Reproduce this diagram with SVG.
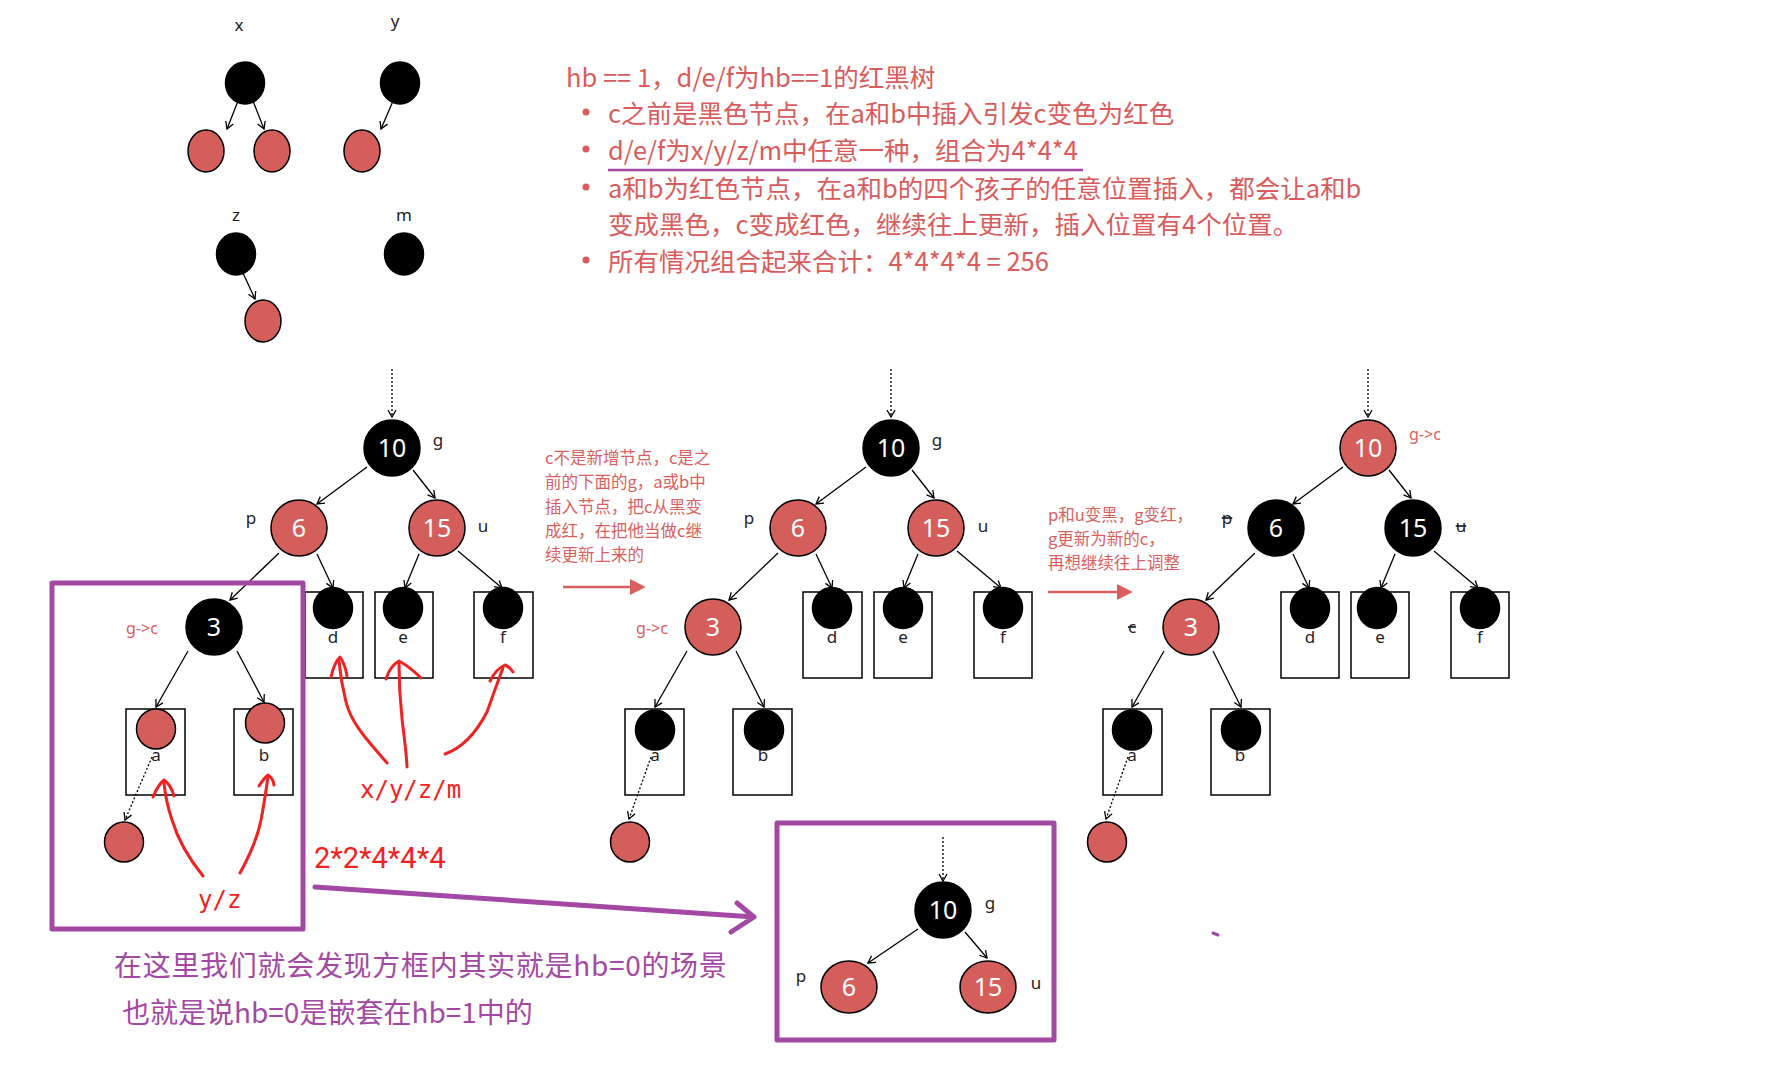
<svg xmlns="http://www.w3.org/2000/svg" width="1792" height="1077" viewBox="0 0 1792 1077">
<style>
.ln{stroke:#000;stroke-width:1.3;fill:none}
.dot{stroke-dasharray:2 2}
.rn{fill:#d45e5b;stroke:#000;stroke-width:1.5}
.bn{fill:#000;stroke:#000;stroke-width:1.5}
.num{font-family:"Noto Sans","DejaVu Sans",sans-serif;font-size:25px;fill:#fff;text-anchor:middle}
.lbl{font-family:"Noto Sans","DejaVu Sans",sans-serif;font-size:17px;fill:#222;text-anchor:middle}
.strike{text-decoration:line-through}
.gc{font-family:"Noto Sans","DejaVu Sans",sans-serif;font-size:16px;fill:#d9605e}
.ann{font-family:"Noto Sans CJK SC",sans-serif;font-size:16.5px;fill:#d9605e}
.note{font-family:"Noto Sans CJK SC",sans-serif;font-size:25.5px;fill:#d95c5c}
.box{fill:none;stroke:#000;stroke-width:1.5}
.hand{stroke:#f02222;stroke-width:3;fill:none;stroke-linecap:round;stroke-linejoin:round}
.purp{stroke:#a349a4;stroke-width:5;fill:none;stroke-linecap:round;stroke-linejoin:round}
.ptext{font-family:"Noto Sans CJK SC",sans-serif;font-size:28px;fill:#a349a4}
.mono{font-family:"DejaVu Sans Mono","Liberation Mono",monospace;font-size:24px;fill:#f02222}
.calc{font-family:"Roboto","Liberation Sans",sans-serif;font-size:29px;fill:#f02222}
</style>
<defs>
<marker id="ah" viewBox="-9 -5 10 10" refX="0" refY="0" markerWidth="10" markerHeight="10" orient="auto" markerUnits="userSpaceOnUse">
<path d="M-7,-4 L0,0 L-7,4" fill="none" stroke="#000" stroke-width="1.3"/>
</marker>
<marker id="ra" viewBox="0 0 10 10" refX="2" refY="5" markerWidth="16" markerHeight="16" orient="auto" markerUnits="userSpaceOnUse">
<path d="M0,0 L10,5 L0,10 Z" fill="#d9605e"/>
</marker>
</defs>
<rect width="1792" height="1077" fill="#fff"/>

<!-- top small trees -->
<g id="small-trees">
<g id="conn-small">
<line class="ln" x1="238" y1="101" x2="227" y2="129" marker-end="url(#ah)"/>
<line class="ln" x1="253" y1="101" x2="264" y2="129" marker-end="url(#ah)"/>
<line class="ln" x1="393" y1="101" x2="381" y2="129" marker-end="url(#ah)"/>
<line class="ln" x1="243" y1="273" x2="255" y2="299" marker-end="url(#ah)"/>
</g>
<g id="sx"><text class="lbl" x="239" y="31" font-size="15">x</text>
<ellipse class="bn" cx="245" cy="83" rx="19.5" ry="21"/>
<ellipse class="rn" cx="206" cy="151" rx="18" ry="21"/>
<ellipse class="rn" cx="272" cy="151" rx="18" ry="21"/></g>
<g id="sy"><text class="lbl" x="395" y="27" font-size="15">y</text>
<ellipse class="bn" cx="400" cy="83" rx="19.5" ry="21"/>
<ellipse class="rn" cx="362" cy="151" rx="18" ry="21"/></g>
<g id="sz"><text class="lbl" x="236" y="221" font-size="15">z</text>
<ellipse class="bn" cx="236" cy="254" rx="19.5" ry="21"/>
<ellipse class="rn" cx="263" cy="321" rx="18" ry="21"/></g>
<g id="sm"><text class="lbl" x="404" y="221" font-size="15">m</text>
<ellipse class="bn" cx="404" cy="254" rx="19.5" ry="21"/></g>
</g>

<!-- notes -->
<g id="notes">
<text class="note" x="566" y="87">hb == 1，d/e/f为hb==1的红黑树</text>
<g fill="#d95c5c"><circle cx="586" cy="112" r="3.5"/><circle cx="586" cy="149" r="3.5"/><circle cx="586" cy="187" r="3.5"/><circle cx="586" cy="260" r="3.5"/></g>
<text class="note" x="608" y="123">c之前是黑色节点，在a和b中插入引发c变色为红色</text>
<text class="note" x="608" y="160">d/e/f为x/y/z/m中任意一种，组合为4*4*4</text>
<line x1="608" y1="170" x2="1083" y2="170" stroke="#a349a4" stroke-width="2.5"/>
<text class="note" x="608" y="198">a和b为红色节点，在a和b的四个孩子的任意位置插入，都会让a和b</text>
<text class="note" x="608" y="234">变成黑色，c变成红色，继续往上更新，插入位置有4个位置。</text>
<text class="note" x="608" y="271">所有情况组合起来合计：4*4*4*4 = 256</text>
</g>

<!-- tree 1 -->
<g id="tree1" transform="translate(392,0)">
<g id="t1-conn">
<line class="ln dot" x1="0" y1="369" x2="0" y2="417" marker-end="url(#ah)"/>
<line class="ln" x1="-25" y1="467" x2="-75" y2="504" marker-end="url(#ah)"/>
<line class="ln" x1="21" y1="470" x2="43" y2="498" marker-end="url(#ah)"/>
<line class="ln" x1="-113" y1="553" x2="-162" y2="600" marker-end="url(#ah)"/>
<line class="ln" x1="-75" y1="554" x2="-59" y2="588" marker-end="url(#ah)"/>
<line class="ln" x1="27" y1="554" x2="13" y2="588" marker-end="url(#ah)"/>
<line class="ln" x1="66" y1="551" x2="110" y2="588" marker-end="url(#ah)"/>
<line class="ln" x1="-204" y1="651" x2="-236" y2="707" marker-end="url(#ah)"/>
<line class="ln" x1="-155" y1="651" x2="-128" y2="702" marker-end="url(#ah)"/>
<line class="ln dot" x1="-240" y1="757" x2="-267" y2="820" marker-end="url(#ah)"/>
</g>
<g id="t1-g"><circle class="bn" cx="0" cy="448" r="28"/><text class="num" x="0" y="457">10</text><text class="lbl" x="46" y="446">g</text></g>
<g id="t1-p"><circle class="rn" cx="-93" cy="528" r="28"/><text class="num" x="-93" y="537">6</text><text class="lbl" x="-141" y="524">p</text></g>
<g id="t1-u"><circle class="rn" cx="45" cy="528" r="28"/><text class="num" x="45" y="537">15</text><text class="lbl" x="91" y="532">u</text></g>
<g id="t1-c"><circle class="bn" cx="-178" cy="627" r="28"/><text class="num" x="-178" y="636">3</text><text class="gc" x="-250" y="634" text-anchor="middle">g-&gt;c</text></g>
<g id="t1-d"><rect class="box" x="-87" y="592" width="58" height="86"/><text class="lbl" x="-59" y="643">d</text><ellipse class="bn" cx="-59" cy="608" rx="19.5" ry="20.5"/></g>
<g id="t1-e"><rect class="box" x="-17" y="592" width="58" height="86"/><text class="lbl" x="11" y="643">e</text><ellipse class="bn" cx="11" cy="608" rx="19.5" ry="20.5"/></g>
<g id="t1-f"><rect class="box" x="82" y="592" width="59" height="86"/><text class="lbl" x="111" y="643">f</text><ellipse class="bn" cx="111" cy="608" rx="19.5" ry="20.5"/></g>
<g id="t1-a"><rect class="box" x="-266" y="709" width="59" height="86"/><text class="lbl" x="-236" y="761">a</text><ellipse class="rn" cx="-236" cy="729" rx="19.5" ry="20"/></g>
<g id="t1-b"><rect class="box" x="-158" y="709" width="59" height="86"/><text class="lbl" x="-128" y="761">b</text><ellipse class="rn" cx="-127" cy="723" rx="19.5" ry="20"/></g>
<g id="t1-leaf"><ellipse class="rn" cx="-268" cy="842" rx="19.5" ry="20"/></g>
</g>

<!-- tree 2 -->
<g id="tree2" transform="translate(891,0)">
<g id="t2-conn">
<line class="ln dot" x1="0" y1="369" x2="0" y2="417" marker-end="url(#ah)"/>
<line class="ln" x1="-25" y1="467" x2="-75" y2="504" marker-end="url(#ah)"/>
<line class="ln" x1="21" y1="470" x2="43" y2="498" marker-end="url(#ah)"/>
<line class="ln" x1="-113" y1="553" x2="-162" y2="600" marker-end="url(#ah)"/>
<line class="ln" x1="-75" y1="554" x2="-59" y2="588" marker-end="url(#ah)"/>
<line class="ln" x1="27" y1="554" x2="13" y2="588" marker-end="url(#ah)"/>
<line class="ln" x1="66" y1="551" x2="110" y2="588" marker-end="url(#ah)"/>
<line class="ln" x1="-204" y1="651" x2="-236" y2="707" marker-end="url(#ah)"/>
<line class="ln" x1="-155" y1="651" x2="-127" y2="707" marker-end="url(#ah)"/>
<line class="ln dot" x1="-240" y1="757" x2="-262" y2="819" marker-end="url(#ah)"/>
</g>
<g id="t2-g"><circle class="bn" cx="0" cy="448" r="28"/><text class="num" x="0" y="457">10</text><text class="lbl" x="46" y="446">g</text></g>
<g id="t2-p"><circle class="rn" cx="-93" cy="528" r="28"/><text class="num" x="-93" y="537">6</text><text class="lbl" x="-142" y="524">p</text></g>
<g id="t2-u"><circle class="rn" cx="45" cy="528" r="28"/><text class="num" x="45" y="537">15</text><text class="lbl" x="92" y="532">u</text></g>
<g id="t2-c"><circle class="rn" cx="-178" cy="627" r="28"/><text class="num" x="-178" y="636">3</text><text class="gc" x="-239" y="634" text-anchor="middle">g-&gt;c</text></g>
<g id="t2-d"><rect class="box" x="-88" y="592" width="59" height="86"/><text class="lbl" x="-59" y="643">d</text><ellipse class="bn" cx="-59" cy="608" rx="19.5" ry="20.5"/></g>
<g id="t2-e"><rect class="box" x="-17" y="592" width="58" height="86"/><text class="lbl" x="12" y="643">e</text><ellipse class="bn" cx="12" cy="608" rx="19.5" ry="20.5"/></g>
<g id="t2-f"><rect class="box" x="83" y="592" width="58" height="86"/><text class="lbl" x="112" y="643">f</text><ellipse class="bn" cx="112" cy="608" rx="19.5" ry="20.5"/></g>
<g id="t2-a"><rect class="box" x="-266" y="709" width="59" height="86"/><text class="lbl" x="-236" y="761">a</text><ellipse class="bn" cx="-236" cy="730" rx="19.5" ry="20"/></g>
<g id="t2-b"><rect class="box" x="-158" y="709" width="59" height="86"/><text class="lbl" x="-128" y="761">b</text><ellipse class="bn" cx="-127" cy="730" rx="19.5" ry="20"/></g>
<g id="t2-leaf"><ellipse class="rn" cx="-261" cy="842" rx="19.5" ry="20"/></g>
</g>

<!-- tree 3 -->
<g id="tree3" transform="translate(1368,0)">
<g id="t3-conn">
<line class="ln dot" x1="0" y1="369" x2="0" y2="417" marker-end="url(#ah)"/>
<line class="ln" x1="-25" y1="467" x2="-75" y2="504" marker-end="url(#ah)"/>
<line class="ln" x1="21" y1="470" x2="43" y2="498" marker-end="url(#ah)"/>
<line class="ln" x1="-113" y1="553" x2="-162" y2="600" marker-end="url(#ah)"/>
<line class="ln" x1="-75" y1="554" x2="-59" y2="588" marker-end="url(#ah)"/>
<line class="ln" x1="27" y1="554" x2="13" y2="588" marker-end="url(#ah)"/>
<line class="ln" x1="66" y1="551" x2="110" y2="588" marker-end="url(#ah)"/>
<line class="ln" x1="-204" y1="651" x2="-236" y2="707" marker-end="url(#ah)"/>
<line class="ln" x1="-155" y1="651" x2="-127" y2="707" marker-end="url(#ah)"/>
<line class="ln dot" x1="-240" y1="757" x2="-262" y2="819" marker-end="url(#ah)"/>
</g>
<g id="t3-g"><circle class="rn" cx="0" cy="448" r="28"/><text class="num" x="0" y="457">10</text><text class="gc" x="41" y="440">g-&gt;c</text></g>
<g id="t3-p"><circle class="bn" cx="-92" cy="528" r="28"/><text class="num" x="-92" y="537">6</text><text class="lbl strike" x="-141" y="524">p</text></g>
<g id="t3-u"><circle class="bn" cx="45" cy="528" r="28"/><text class="num" x="45" y="537">15</text><text class="lbl strike" x="93" y="532">u</text></g>
<g id="t3-c"><circle class="rn" cx="-177" cy="627" r="28"/><text class="num" x="-177" y="636">3</text><text class="lbl strike" x="-236" y="633">c</text></g>
<g id="t3-d"><rect class="box" x="-87" y="592" width="58" height="86"/><text class="lbl" x="-58" y="643">d</text><ellipse class="bn" cx="-58" cy="608" rx="19.5" ry="20.5"/></g>
<g id="t3-e"><rect class="box" x="-17" y="592" width="58" height="86"/><text class="lbl" x="12" y="643">e</text><ellipse class="bn" cx="9" cy="608" rx="19.5" ry="20.5"/></g>
<g id="t3-f"><rect class="box" x="83" y="592" width="58" height="86"/><text class="lbl" x="112" y="643">f</text><ellipse class="bn" cx="112" cy="608" rx="19.5" ry="20.5"/></g>
<g id="t3-a"><rect class="box" x="-265" y="709" width="59" height="86"/><text class="lbl" x="-236" y="761">a</text><ellipse class="bn" cx="-236" cy="730" rx="19.5" ry="20"/></g>
<g id="t3-b"><rect class="box" x="-157" y="709" width="59" height="86"/><text class="lbl" x="-128" y="761">b</text><ellipse class="bn" cx="-127" cy="730" rx="19.5" ry="20"/></g>
<g id="t3-leaf"><ellipse class="rn" cx="-261" cy="842" rx="19.5" ry="20"/></g>
</g>

<!-- annotations between trees -->
<g id="ann2">
<text class="ann" x="545" y="464">c不是新增节点，c是之</text>
<text class="ann" x="545" y="488">前的下面的g，a或b中</text>
<text class="ann" x="545" y="513">插入节点，把c从黑变</text>
<text class="ann" x="545" y="537">成红，在把他当做c继</text>
<text class="ann" x="545" y="561">续更新上来的</text>
</g>
<g id="ann3">
<text class="ann" x="1048" y="521">p和u变黑，g变红，</text>
<text class="ann" x="1048" y="545">g更新为新的c，</text>
<text class="ann" x="1048" y="569">再想继续往上调整</text>
</g>
<g id="step-arrows">
<line x1="563" y1="587" x2="633" y2="587" stroke="#d9605e" stroke-width="2.5" marker-end="url(#ra)"/>
<line x1="1048" y1="592" x2="1120" y2="592" stroke="#d9605e" stroke-width="2.5" marker-end="url(#ra)"/>
</g>

<!-- hand-drawn red arrows and labels -->
<g id="hand">
<path class="hand" d="M387,763 C372,745 352,726 346,702 C342,686 340,672 339,661"/>
<path class="hand" d="M331,677 Q334,663 340,657 Q345,664 347,676"/>
<path class="hand" d="M407,767 C406,746 403,730 402,718 C400,700 399,682 399,664"/>
<path class="hand" d="M386,679 Q390,666 399,661 Q410,667 421,678"/>
<path class="hand" d="M445,754 C462,748 475,735 487,712 C493,695 498,681 503,668"/>
<path class="hand" d="M490,681 Q496,669 505,665 Q510,667 513,672"/>
<path class="hand" d="M203,876 C190,860 178,840 172,820 C167,805 165,793 164,783"/>
<path class="hand" d="M153,797 Q158,785 164,780 Q171,785 174,796"/>
<path class="hand" d="M240,873 C250,855 258,835 261,820 C264,805 266,790 268,777"/>
<path class="hand" d="M259,786 Q264,778 268,775 Q273,778 274,785"/>
<text class="mono" x="360" y="798">x/y/z/m</text>
<text class="mono" x="198" y="908">y/z</text>
<text class="calc" x="314" y="868">2*2*4*4*4</text>
</g>

<!-- purple highlight -->
<g id="highlight">
<rect class="purp" x="52" y="583" width="251" height="346"/>
<path class="purp" d="M315,887 L754,917 M737,903 L754,917 L731,932"/>
<path d="M1213,933 L1218,935" stroke="#a349a4" stroke-width="3" stroke-linecap="round"/>
</g>

<!-- hb=0 tree -->
<g id="hb0">
<rect class="purp" x="777" y="823" width="277" height="217"/>
<g id="hb0-conn">
<line class="ln dot" x1="943" y1="837" x2="943" y2="881" marker-end="url(#ah)"/>
<line class="ln" x1="918" y1="929" x2="868" y2="963" marker-end="url(#ah)"/>
<line class="ln" x1="965" y1="932" x2="987" y2="958" marker-end="url(#ah)"/>
</g>
<g id="hb0-g"><circle class="bn" cx="943" cy="910" r="28"/><text class="num" x="943" y="919">10</text><text class="lbl" x="990" y="909" font-size="15">g</text></g>
<g id="hb0-p"><ellipse class="rn" cx="849" cy="987" rx="28" ry="26"/><text class="num" x="849" y="996">6</text><text class="lbl" x="801" y="982" font-size="15">p</text></g>
<g id="hb0-u"><ellipse class="rn" cx="988" cy="987" rx="28" ry="26"/><text class="num" x="988" y="996">15</text><text class="lbl" x="1036" y="989" font-size="15">u</text></g>
</g>

<g id="bottom-text">
<text class="ptext" x="114" y="976" letter-spacing="0.7">在这里我们就会发现方框内其实就是hb=0的场景</text>
<text class="ptext" x="122" y="1023">也就是说hb=0是嵌套在hb=1中的</text>
</g>
</svg>
